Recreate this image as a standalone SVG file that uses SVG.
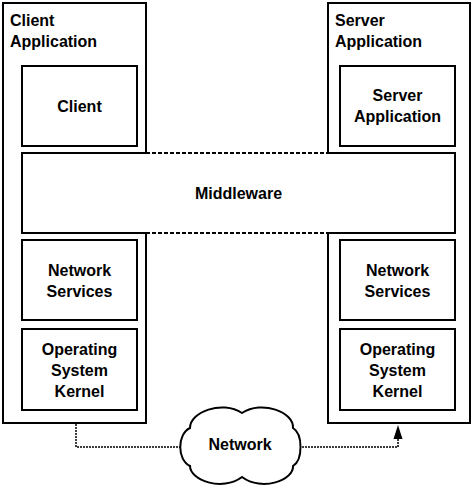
<svg xmlns="http://www.w3.org/2000/svg" width="474" height="486" viewBox="0 0 474 486">
<style>
.box{fill:#fff;stroke:#000;stroke-width:2}
.t{font-family:"Liberation Sans",Arial,sans-serif;font-weight:bold;font-size:16px;fill:#000}
.c{text-anchor:middle}
.dash{fill:none;stroke:#000;stroke-width:2;stroke-dasharray:4,2}
.dot{fill:none;stroke:#000;stroke-width:1.5;stroke-dasharray:2,1}
</style>
<rect width="474" height="486" fill="#fff"/>
<g id="client-app">
<rect class="box" x="3" y="3" width="143" height="420"/>
<text class="t" x="10" y="26">Client</text>
<text class="t" x="10" y="47">Application</text>
</g>
<g id="server-app">
<rect class="box" x="328" y="3" width="142" height="420"/>
<text class="t" x="335" y="26">Server</text>
<text class="t" x="335" y="47">Application</text>
</g>
<g id="client">
<rect class="box" x="22" y="66" width="115" height="80"/>
<text class="t c" x="79.5" y="112">Client</text>
</g>
<g id="server">
<rect class="box" x="340" y="66" width="115" height="80"/>
<text class="t c" x="397.5" y="101">Server</text>
<text class="t c" x="397.5" y="122">Application</text>
</g>
<g id="middleware">
<rect x="22" y="153" width="433" height="80" fill="#fff"/>
<path d="M146,153 H22 V233 H146" fill="none" stroke="#000" stroke-width="2"/>
<path d="M328,153 H455 V233 H328" fill="none" stroke="#000" stroke-width="2"/>
<path class="dash" d="M146,153 H328 M146,233 H328"/>
<text class="t c" x="238.5" y="198.5">Middleware</text>
</g>
<g id="client-net">
<rect class="box" x="22" y="240" width="115" height="80"/>
<text class="t c" x="79.5" y="275.5">Network</text>
<text class="t c" x="79.5" y="296.5">Services</text>
</g>
<g id="server-net">
<rect class="box" x="340" y="240" width="115" height="80"/>
<text class="t c" x="397.5" y="275.5">Network</text>
<text class="t c" x="397.5" y="296.5">Services</text>
</g>
<g id="client-os">
<rect class="box" x="22" y="329" width="115" height="81"/>
<text class="t c" x="79.5" y="354.5">Operating</text>
<text class="t c" x="79.5" y="375.5">System</text>
<text class="t c" x="79.5" y="396.5">Kernel</text>
</g>
<g id="server-os">
<rect class="box" x="340" y="329" width="115" height="81"/>
<text class="t c" x="397.5" y="354.5">Operating</text>
<text class="t c" x="397.5" y="375.5">System</text>
<text class="t c" x="397.5" y="396.5">Kernel</text>
</g>
<g id="connectors">
<path class="dot" d="M76,424 V447 H181"/>
<path class="dot" d="M299,447 H398 V438"/>
<path d="M398,425 L402.5,439 L393.5,439 Z" fill="#000"/>
</g>
<g id="network">
<path d="M190,428 C190,412 222,400 242,413 C262,400 294,412 293,428 C303,434 303,460 293,466 C294,480 262,492 242,477 C222,492 190,480 190,466 C177,460 177,434 190,428 Z" fill="#fff" stroke="#000" stroke-width="2"/>
<text class="t c" x="240" y="450">Network</text>
</g>
</svg>
